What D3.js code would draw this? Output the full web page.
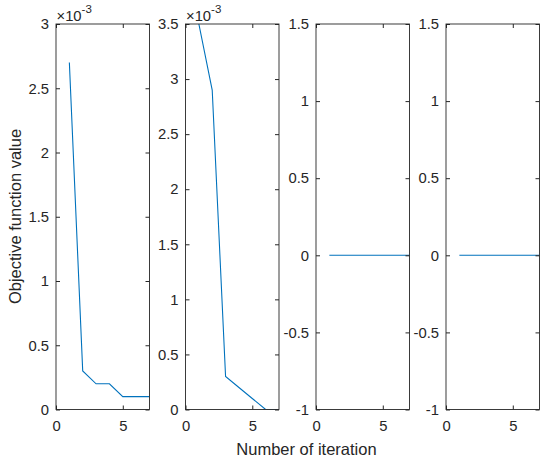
<!DOCTYPE html>
<html><head><meta charset="utf-8">
<script src="https://cdn.jsdelivr.net/npm/d3@7"></script>
<style>body{margin:0;background:#fff}svg{display:block;font-family:Arial,"Liberation Sans",sans-serif}</style>
</head><body><svg id="c" width="550" height="464"></svg>
<script>
const iterations = [1,2,3,4,5,6,7];
const panel1Values = [2.7e-3,0.3e-3,0.2e-3,0.2e-3,0.1e-3,0.1e-3,0.1e-3];
const panel2Values = [3.5e-3,2.9e-3,0.3e-3,0.2e-3,0.1e-3,0,0];
const panel3Values = [0,0,0,0,0,0,0];
const panel4Values = [0,0,0,0,0,0,0];
const xTicks = [0,5];
const yDomains = [[0,3e-3],[0,3.5e-3],[-1,1.5],[-1,1.5]];
const yTickSets = [[0,0.5e-3,1e-3,1.5e-3,2e-3,2.5e-3,3e-3],[0,0.5e-3,1e-3,1.5e-3,2e-3,2.5e-3,3e-3,3.5e-3],[-1,-0.5,0,0.5,1,1.5],[-1,-0.5,0,0.5,1,1.5]];
const exponentLabels = ["-3","-3",null,null];
const series = [panel1Values,panel2Values,panel3Values,panel4Values];
const panelLefts = [56,185.5,316,446];
const panelW = 93.5, plotTop = 24, plotBottom = 409.5;
const svg = d3.select("#c");
const axisColor = "#262626", lineColor = "#0072BD", fs = 14.8;
const FF = "Arial, 'Liberation Sans', sans-serif";

series.forEach((vals,i)=>{
  const L = panelLefts[i], R = L+panelW;
  const x = d3.scaleLinear().domain([0,7]).range([L,R]);
  const y = d3.scaleLinear().domain(yDomains[i]).range([plotBottom,plotTop]);
  const scale = exponentLabels[i] ? 1e3 : 1;
  const g = svg.append("g");
  const clipId = "clip"+i;
  svg.append("clipPath").attr("id",clipId).append("rect").attr("x",L).attr("y",plotTop).attr("width",panelW).attr("height",plotBottom-plotTop);
  g.append("path").datum(vals.map((v,j)=>[iterations[j],v]))
    .attr("clip-path",`url(#${clipId})`)
    .attr("fill","none").attr("stroke",lineColor).attr("stroke-width",1.1)
    .attr("d",d3.line().x(d=>x(d[0])).y(d=>y(d[1])));
  const fmt = v => d3.format("~g")(+(v*scale).toFixed(6)).replace("\u2212","-");
  const ax = (gen, tr) => {
    const a = g.append("g").attr("transform",tr).call(gen);
    a.attr("font-size",null).attr("font-family",null);
    a.select(".domain").remove();
    a.selectAll("line").attr("stroke",axisColor);
    a.selectAll("text").attr("fill",axisColor).style("font-size",fs+"px").style("font-family",FF);
    return a;
  };
  ax(d3.axisLeft(y).tickValues(yTickSets[i]).tickSize(-4).tickPadding(7).tickFormat(fmt),`translate(${L},0)`);
  ax(d3.axisRight(y).tickValues(yTickSets[i]).tickSize(-4).tickFormat(""),`translate(${R},0)`);
  ax(d3.axisBottom(x).tickValues(xTicks).tickSize(-4).tickPadding(11).tickFormat(d3.format("d")),`translate(0,${plotBottom})`);
  ax(d3.axisTop(x).tickValues(xTicks).tickSize(-4).tickFormat(""),`translate(0,${plotTop})`);
  g.append("rect").attr("x",L).attr("y",plotTop).attr("width",panelW).attr("height",plotBottom-plotTop)
    .attr("fill","none").attr("stroke",axisColor).attr("stroke-width",0.9);
  if(exponentLabels[i]){
    const t = g.append("text").attr("x",L+0.5).attr("y",20.5).style("font-size",fs+"px").style("font-family",FF).attr("fill",axisColor);
    t.append("tspan").text("\u00d710");
    t.append("tspan").attr("dy",-7.5).style("font-size","11.5px").text(exponentLabels[i]);
  }
});
svg.append("text").attr("transform","translate(20.5,216.5) rotate(-90)").attr("text-anchor","middle")
  .style("font-size","16.5px").style("font-family",FF).attr("fill",axisColor).text("Objective function value");
svg.append("text").attr("x",306.5).attr("y",455).attr("text-anchor","middle")
  .style("font-size","16.5px").style("font-family",FF).attr("fill",axisColor).text("Number of iteration");
</script></body></html>
